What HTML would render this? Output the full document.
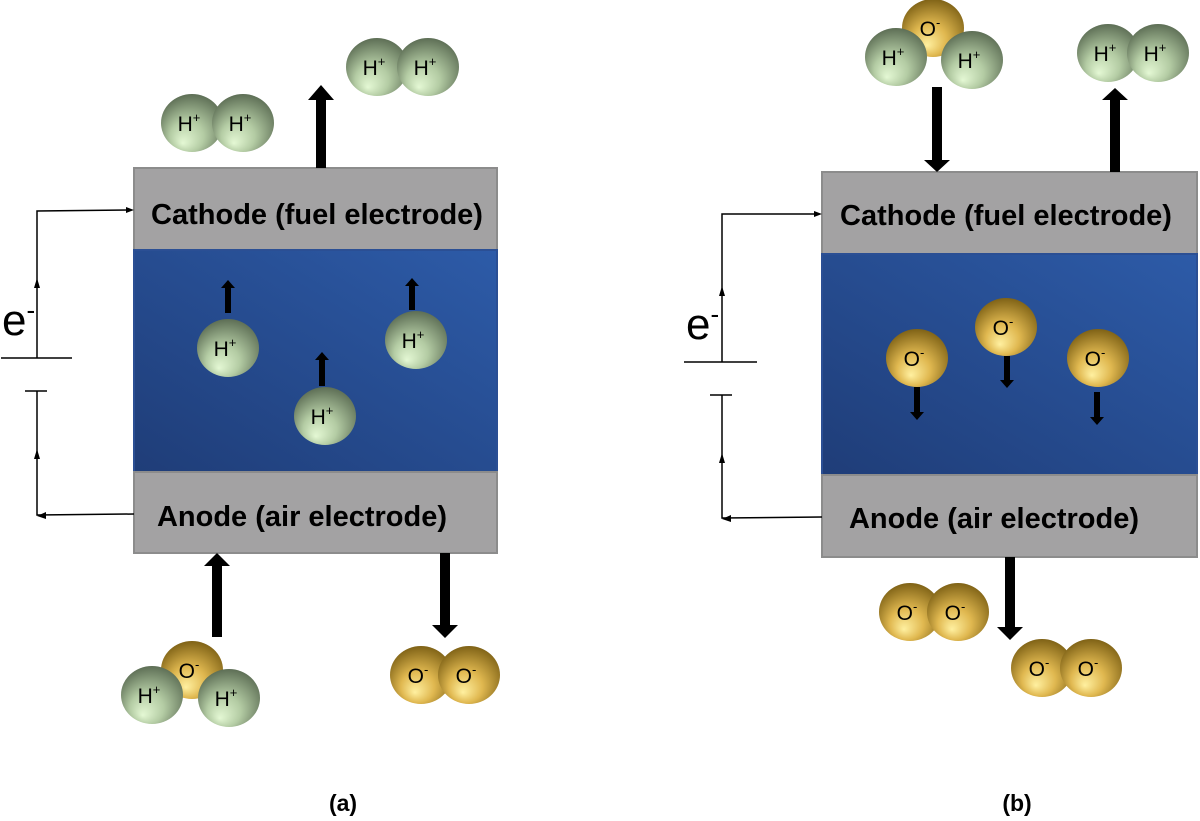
<!DOCTYPE html>
<html><head><style>
html,body{margin:0;padding:0;background:#fff;}
svg{display:block;}
text{font-family:"Liberation Sans",Arial,sans-serif;}
</style></head><body>
<svg width="1200" height="821" viewBox="0 0 1200 821" xmlns="http://www.w3.org/2000/svg">
<defs>
<radialGradient id="gH" cx="0.5" cy="0.6" r="0.6" fx="0.35" fy="0.85">
<stop offset="0" stop-color="#e4f8d4"/><stop offset="0.45" stop-color="#b4cca4"/><stop offset="1" stop-color="#5d6e55"/></radialGradient>
<radialGradient id="gO" cx="0.5" cy="0.6" r="0.6" fx="0.4" fy="0.8">
<stop offset="0" stop-color="#fff0a0"/><stop offset="0.45" stop-color="#e0b850"/><stop offset="1" stop-color="#7f6216"/></radialGradient>
<linearGradient id="gB" x1="0" y1="1" x2="1" y2="0">
<stop offset="0" stop-color="#1f3d78"/><stop offset="1" stop-color="#2d5ba8"/></linearGradient>
<g id="H"><ellipse rx="31" ry="29" fill="url(#gH)"/><text x="-3" y="8" font-size="21" text-anchor="middle">H<tspan font-size="13" dy="-9">+</tspan></text></g>
<g id="O"><ellipse rx="31" ry="29" fill="url(#gO)"/><text x="-3" y="8" font-size="21" text-anchor="middle">O<tspan font-size="13" dy="-9">-</tspan></text></g>
</defs>

<!-- Panel A -->
<rect x="134" y="168" width="363" height="82" fill="#a3a2a3" stroke="#8c8c8c" stroke-width="2"/>
<rect x="134" y="250" width="363" height="222" fill="url(#gB)" stroke="#2b4f94" stroke-width="2"/>
<rect x="134" y="472" width="363" height="81" fill="#a3a2a3" stroke="#8c8c8c" stroke-width="2"/>
<text x="317" y="224" font-size="29" font-weight="bold" text-anchor="middle">Cathode (fuel electrode)</text>
<text x="302" y="526" font-size="29" font-weight="bold" text-anchor="middle">Anode (air electrode)</text>

<g stroke="#000" stroke-width="1.5" fill="none">
<polyline points="37,358 37,211 130,210"/>
<polyline points="37,391 37,515 134,514"/>
<line x1="1" y1="358" x2="72" y2="358"/>
<line x1="25" y1="391" x2="47" y2="391"/>
</g>
<g fill="#000">
<polygon points="134,210 126,207 126,213"/>
<polygon points="37,278 34,288 40,288"/>
<polygon points="37,449 34,459 40,459"/>
<polygon points="37,516 46,512 46,519"/>
</g>
<text x="2" y="335" font-size="44">e<tspan font-size="26" dy="-16">-</tspan></text>

<g fill="#000">
<polygon points="316,168 316,100 308,100 321,85 334,100 326,100 326,168"/>
<polygon points="212,637 212,566 204,566 217,553 230,566 222,566 222,637"/>
<polygon points="440,553 440,625 432,625 445,638 458,625 450,625 450,553"/>
<polygon points="225,313 225,288 221,288 228,280 235,288 231,288 231,313"/>
<polygon points="409,310 409,286 405,286 412,278 419,286 415,286 415,310"/>
<polygon points="319,386 319,360 315,360 322,352 329,360 325,360 325,386"/>
</g>
<use href="#H" x="192" y="123"/><use href="#H" x="243" y="123"/>
<use href="#H" x="377" y="67"/><use href="#H" x="428" y="67"/>
<use href="#H" x="228" y="348"/><use href="#H" x="416" y="340"/><use href="#H" x="325" y="416"/>
<use href="#O" x="192" y="670"/><use href="#H" x="152" y="695"/><use href="#H" x="229" y="698"/>
<use href="#O" x="421" y="675"/><use href="#O" x="469" y="675"/>
<text x="343" y="811" font-size="23" font-weight="bold" text-anchor="middle">(a)</text>

<!-- Panel B -->
<rect x="822" y="172" width="375" height="82" fill="#a3a2a3" stroke="#8c8c8c" stroke-width="2"/>
<rect x="822" y="254" width="375" height="221" fill="url(#gB)" stroke="#2b4f94" stroke-width="2"/>
<rect x="822" y="475" width="375" height="82" fill="#a3a2a3" stroke="#8c8c8c" stroke-width="2"/>
<text x="1006" y="225" font-size="29" font-weight="bold" text-anchor="middle">Cathode (fuel electrode)</text>
<text x="994" y="528" font-size="29" font-weight="bold" text-anchor="middle">Anode (air electrode)</text>

<g stroke="#000" stroke-width="1.5" fill="none">
<polyline points="722,362 722,214 818,214"/>
<polyline points="722,395 722,518 822,517"/>
<line x1="684" y1="362" x2="757" y2="362"/>
<line x1="710" y1="395" x2="732" y2="395"/>
</g>
<g fill="#000">
<polygon points="822,214 814,211 814,217"/>
<polygon points="722,286 719,296 725,296"/>
<polygon points="722,453 719,463 725,463"/>
<polygon points="722,519 731,515 731,522"/>
</g>
<text x="686" y="339" font-size="44">e<tspan font-size="26" dy="-16">-</tspan></text>

<g fill="#000">
<polygon points="932,87 932,160 924,160 937,172 950,160 942,160 942,87"/>
<polygon points="1110,172 1110,100 1102,100 1115,88 1128,100 1120,100 1120,172"/>
<polygon points="1005,557 1005,627 997,627 1010,640 1023,627 1015,627 1015,557"/>
<polygon points="914,387 914,412 910,412 917,420 924,412 920,412 920,387"/>
<polygon points="1004,356 1004,380 1000,380 1007,388 1014,380 1010,380 1010,356"/>
<polygon points="1094,392 1094,417 1090,417 1097,425 1104,417 1100,417 1100,392"/>
</g>
<use href="#O" x="933" y="28"/><use href="#H" x="896" y="57"/><use href="#H" x="972" y="60"/>
<use href="#H" x="1108" y="53"/><use href="#H" x="1158" y="53"/>
<use href="#O" x="917" y="358"/><use href="#O" x="1006" y="327"/><use href="#O" x="1098" y="358"/>
<use href="#O" x="910" y="612"/><use href="#O" x="958" y="612"/>
<use href="#O" x="1042" y="668"/><use href="#O" x="1091" y="668"/>
<text x="1017" y="811" font-size="23" font-weight="bold" text-anchor="middle">(b)</text>
</svg>
</body></html>
